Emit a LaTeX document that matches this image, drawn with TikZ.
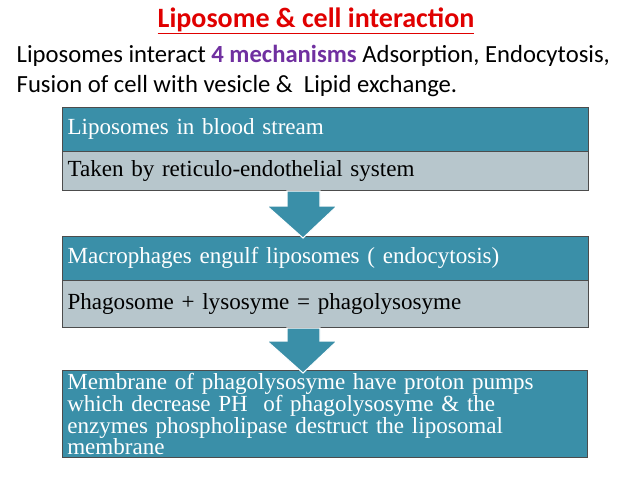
\documentclass[tikz,border=0pt]{standalone}
\usepackage{fontspec}
\setmainfont{Liberation Serif}
\newfontfamily\calfont{Carlito}
\definecolor{teal1}{HTML}{3A8FA8}
\definecolor{gray1}{HTML}{B7C6CC}
\definecolor{purp}{HTML}{7030A0}
\definecolor{redt}{HTML}{E00000}
\begin{document}
\begin{tikzpicture}[x=0.75pt,y=-0.75pt,
  top/.style={draw=black!70,fill=teal1,text=white,anchor=north west,minimum width=525*0.75pt,text width=515*0.75pt,align=left,font=\fontsize{17.3}{18}\selectfont,inner sep=4pt},
  sub/.style={draw=black!70,fill=gray1,text=black,anchor=north west,minimum width=525*0.75pt,text width=515*0.75pt,align=left,font=\fontsize{17.3}{18}\selectfont,inner sep=4pt},
  arr/.style={fill=teal1,draw=white,line width=0.8pt}]
\useasboundingbox (0,0) rectangle (638,478);
\node[font=\calfont\bfseries\fontsize{21}{24}\selectfont,text=redt] (title) at (316,21) {\underline{Liposome \& cell interaction}};
\node[font=\calfont\fontsize{18.5}{22}\selectfont,anchor=west] (l1) at (12,56) {Liposomes interact {\bfseries\color{purp}4 mechanisms} Adsorption, Endocytosis,};
\node[font=\calfont\fontsize{18.5}{22}\selectfont,anchor=west] (l2) at (12,86) {Fusion of cell with vesicle \&\ \ Lipid exchange.};
\node[top,minimum height=44*0.75pt] (b1) at (62,107) {Liposomes in blood stream};
\node[sub,minimum height=39*0.75pt] (s1) at (62,151) {Taken by reticulo-endothelial system};
\node[top,minimum height=44*0.75pt] (b2) at (62,236) {Macrophages engulf liposomes ( endocytosis)};
\node[sub,minimum height=47*0.75pt] (s2) at (62,280) {Phagosome + lysosyme = phagolysosyme};
\node[top,minimum height=87*0.75pt,inner sep=1pt,font=\fontsize{17.3}{15.8}\selectfont] (b3) at (62,370) {Membrane of phagolysosyme have proton pumps\\ which decrease PH\ \ of phagolysosyme \& the\\ enzymes phospholipase destruct the liposomal\\ membrane};
\draw[arr] (287,191) -- (287,206) -- (267,206) -- (303,238) -- (337,206) -- (320,206) -- (320,191) -- cycle;
\draw[arr] (287,328) -- (287,341) -- (267,341) -- (303,373) -- (337,341) -- (320,341) -- (320,328) -- cycle;
\end{tikzpicture}
\end{document}
